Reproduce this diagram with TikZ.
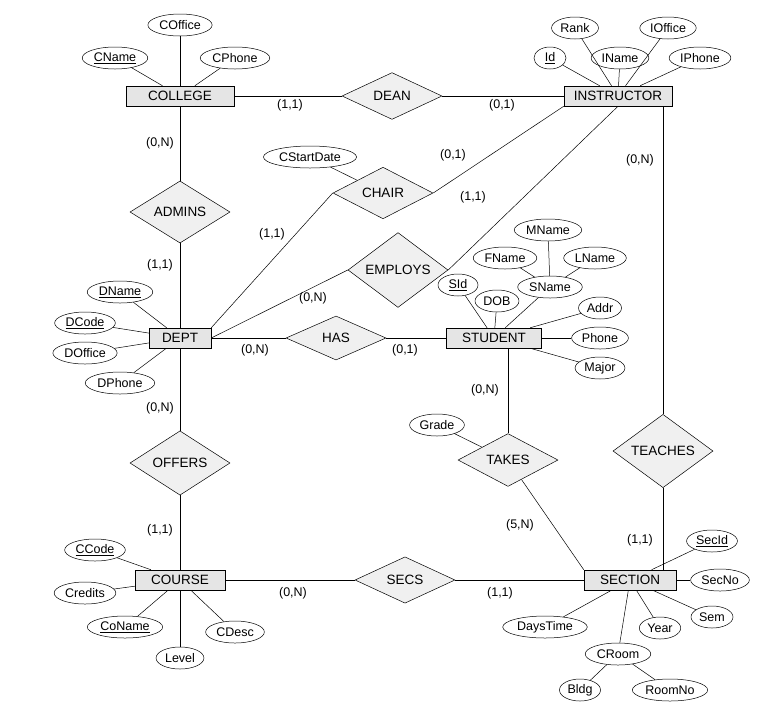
\documentclass[tikz,border=0pt]{standalone}
\usepackage{fontspec}
\setmainfont{Liberation Sans}
\usetikzlibrary{shapes.geometric}
\begin{document}
\begin{tikzpicture}[x=1pt,y=-1pt,
 ent/.style={draw,fill=gray!20,minimum height=20pt,inner sep=2pt,font=\fontsize{13.5}{13.5}\selectfont},
 rel/.style={draw,diamond,fill=gray!12,minimum width=100pt,minimum height=44pt,inner sep=0pt,font=\fontsize{13.5}{13.5}\selectfont},
 att/.style={draw,ellipse,fill=white,inner xsep=2pt,inner ysep=1pt,minimum height=22pt,minimum width=40pt,font=\fontsize{12.5}{12.5}\selectfont},
 card/.style={font=\fontsize{12.5}{12.5}\selectfont},
 every path/.style={line width=0.5pt}]
\useasboundingbox (0,0) rectangle (783,710);
% entities
\node[ent,minimum width=108pt] (college) at (180,96) {COLLEGE};
\node[ent,minimum width=108pt] (instr) at (618,96) {INSTRUCTOR};
\node[ent,minimum width=62pt] (dept) at (180,338) {DEPT};
\node[ent,minimum width=95pt] (student) at (494,338) {STUDENT};
\node[ent,minimum width=90pt] (course) at (180,580) {COURSE};
\node[ent,minimum width=92pt] (section) at (630,580) {SECTION};
% relations
\node[rel] (dean) at (392,96) {DEAN};
\node[rel] (admins) at (180,212) {ADMINS};
\node[rel] (chair) at (383,193) {CHAIR};
\node[rel] (employs) at (398,270) {EMPLOYS};
\node[rel] (has) at (336,338) {HAS};
\node[rel] (offers) at (180,463) {OFFERS};
\node[rel] (takes) at (508,460) {TAKES};
\node[rel] (teaches) at (663,451) {TEACHES};
\node[rel] (secs) at (405,580) {SECS};
% attributes
\node[att] (coffice) at (180,25) {COffice};
\node[att] (cname) at (115,58) {\underline{CName}};
\node[att] (cphone) at (235,58) {CPhone};
\node[att] (rank) at (575,28) {Rank};
\node[att] (ioffice) at (668,28) {IOffice};
\node[att,minimum width=32pt] (id) at (550,58) {\underline{Id}};
\node[att] (iname) at (620,58) {IName};
\node[att] (iphone) at (700,58) {IPhone};
\node[att] (dname) at (120,292) {\underline{DName}};
\node[att] (dcode) at (85,323) {\underline{DCode}};
\node[att] (doffice) at (85,353) {DOffice};
\node[att] (dphone) at (120,383) {DPhone};
\node[att] (cstart) at (310,157) {CStartDate};
\node[att] (mname) at (548,230) {MName};
\node[att] (fname) at (505,258) {FName};
\node[att] (lname) at (595,258) {LName};
\node[att] (sname) at (550,287) {SName};
\node[att] (sid) at (458,285) {\underline{SId}};
\node[att] (dob) at (497,301) {DOB};
\node[att] (addr) at (600,308) {Addr};
\node[att] (phone) at (600,338) {Phone};
\node[att] (major) at (600,368) {Major};
\node[att] (grade) at (437,425) {Grade};
\node[att] (ccode) at (95,550) {\underline{CCode}};
\node[att] (credits) at (85,593) {Credits};
\node[att] (coname) at (125,627) {\underline{CoName}};
\node[att] (level) at (180,658) {Level};
\node[att] (cdesc) at (235,632) {CDesc};
\node[att] (secid) at (712,541) {\underline{SecId}};
\node[att] (secno) at (720,580) {SecNo};
\node[att] (sem) at (712,617) {Sem};
\node[att] (year) at (660,628) {Year};
\node[att] (daystime) at (545,627) {DaysTime};
\node[att] (croom) at (618,654) {CRoom};
\node[att] (bldg) at (580,690) {Bldg};
\node[att] (roomno) at (670,690) {RoomNo};
% attribute links
\foreach \a/\e in {coffice/college,cname/college,cphone/college,rank/instr,ioffice/instr,id/instr,iname/instr,iphone/instr,dname/dept,dcode/dept,doffice/dept,dphone/dept,sid/student,dob/student,sname/student,addr/student,phone/student,major/student,ccode/course,credits/course,coname/course,level/course,cdesc/course,secid/section,secno/section,sem/section,year/section,daystime/section,croom/section,fname/sname,mname/sname,lname/sname,bldg/croom,roomno/croom,cstart/chair,grade/takes}
  \draw (\a) -- (\e);
% relationship links
\draw (college) -- (dean) -- (instr);
\draw (college) -- (admins) -- (dept);
\draw (dept.north east) -- (chair.west);
\draw (chair.east) -- (instr.south west);
\draw (dept.east) -- (employs.west);
\draw (employs.east) -- (instr.south);
\draw (dept) -- (has) -- (student);
\draw (dept) -- (offers) -- (course);
\draw (student.south -| takes) -- (takes);
\draw (takes) -- (section.north west);
\draw (instr.south -| teaches) -- (teaches) -- (section.north -| teaches);
\draw (course) -- (secs) -- (section);
% cardinalities
\node[card] at (290,105) {(1,1)};
\node[card] at (502,105) {(0,1)};
\node[card] at (160,143) {(0,N)};
\node[card] at (160,265) {(1,1)};
\node[card] at (453,155) {(0,1)};
\node[card] at (473,197) {(1,1)};
\node[card] at (272,234) {(1,1)};
\node[card] at (313,298) {(0,N)};
\node[card] at (255,350) {(0,N)};
\node[card] at (405,350) {(0,1)};
\node[card] at (640,160) {(0,N)};
\node[card] at (640,540) {(1,1)};
\node[card] at (160,408) {(0,N)};
\node[card] at (160,530) {(1,1)};
\node[card] at (485,390) {(0,N)};
\node[card] at (520,525) {(5,N)};
\node[card] at (293,593) {(0,N)};
\node[card] at (500,593) {(1,1)};
\end{tikzpicture}
\end{document}
